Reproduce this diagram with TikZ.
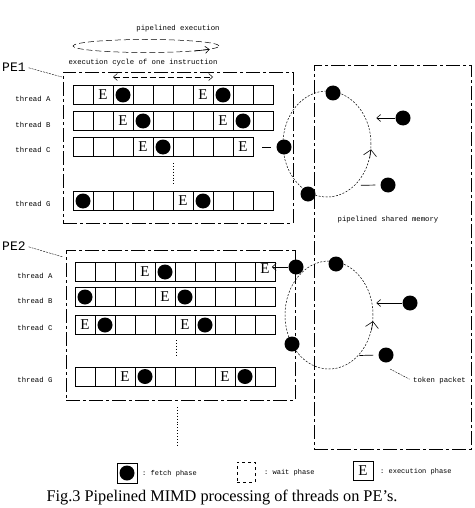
\documentclass[tikz,border=0pt]{standalone}
\usepackage{fontspec}
\setmainfont{Liberation Serif}
\setmonofont{Liberation Mono}
\usetikzlibrary{shapes.geometric,arrows.meta}
\newcommand\cellrow[4]{\foreach \i in {0,...,#4}{\node[cell] (#1-\i) at ({#2+20*\i+10},#3) {};}}
\begin{document}
\begin{tikzpicture}[x=1pt,y=-1pt,
  cell/.style={draw,line width=0.7pt,minimum width=20pt,minimum height=19pt,inner sep=0pt,outer sep=0pt},
  fdot/.style={circle,fill=black,minimum size=15pt,inner sep=0pt},
  eletter/.style={font=\fontsize{15}{15}\selectfont,inner sep=0pt},
  small/.style={font=\ttfamily\fontsize{7.3}{8}\selectfont,inner sep=0pt},
  legtext/.style={font=\ttfamily\fontsize{7}{8}\selectfont,inner sep=0pt,anchor=west},
  pelabel/.style={font=\ttfamily\fontsize{13}{13}\selectfont,inner sep=0pt},
  pebox/.style={draw,line width=0.6pt,dash pattern=on 14pt off 3pt on 3pt off 3pt,inner sep=0pt},
  ringst/.style={draw,ellipse,line width=0.5pt,dash pattern=on 2pt off 1.5pt,inner sep=0pt},
  leader/.style={line width=0.4pt,dash pattern=on 2pt off 1pt},
  tip/.style={-{Straight Barb[length=4pt,width=7pt]},line width=0.6pt},
  chevron/.style={-{Straight Barb[length=6pt,width=13pt]},line width=0.6pt},
  plainline/.style={line width=0.7pt},
  vdots/.style={dotted,line width=0.9pt}
]
\useasboundingbox (0,0) rectangle (474,508);

% top annotations
\node[small] (tpipe) at (178,29) {pipelined execution};
\node[draw,ellipse,line width=0.5pt,dash pattern=on 6pt off 3pt,minimum width=146pt,minimum height=13pt,inner sep=0pt] (pipe) at (146,46) {};
\draw[tip] (pipe.-6) -- (pipe.-3);
\node[small] (tcycle) at (143,63) {execution cycle of one instruction};
\coordinate (cycL) at (113,77);
\coordinate (cycR) at (213,77);
\draw[{Straight Barb[length=4pt,width=7pt]}-{Straight Barb[length=4pt,width=7pt]},line width=0.5pt,dash pattern=on 6pt off 3pt] (cycL) -- (cycR);

% boxes
\node[pebox,minimum width=230pt,minimum height=151pt] (pe1) at (178,147.5) {};
\node[pebox,minimum width=229pt,minimum height=150pt] (pe2) at (180.5,325) {};
\node[pebox,minimum width=157pt,minimum height=384pt] (mem) at (392.5,257) {};

% PE labels
\node[pelabel,anchor=west] (pe1l) at (2,67) {PE1};
\coordinate (pe1c) at (62,77);
\draw[leader,shorten <=3pt] (pe1l.east) -- (pe1c);
\node[pelabel,anchor=west] (pe2l) at (2,246) {PE2};
\coordinate (pe2c) at (63,257);
\draw[leader,shorten <=3pt] (pe2l.east) -- (pe2c);

% PE1 thread labels
\node[small] (l1a) at (33,99) {thread A};
\node[small] (l1b) at (33,125) {thread B};
\node[small] (l1c) at (33,150) {thread C};
\node[small] (l1g) at (33,204) {thread G};
% PE1 rows
\cellrow{p1a}{73}{95}{9}
\cellrow{p1b}{73}{121}{9}
\cellrow{p1c}{73}{147}{8}
\cellrow{p1g}{73}{201}{9}
\node[eletter] (p1a-e1) at (p1a-1) {E};
\node[fdot] (p1a-f2) at (p1a-2) {};
\node[eletter] (p1a-e6) at (p1a-6) {E};
\node[fdot] (p1a-f7) at (p1a-7) {};
\node[eletter] (p1b-e2) at (p1b-2) {E};
\node[fdot] (p1b-f3) at (p1b-3) {};
\node[eletter] (p1b-e7) at (p1b-7) {E};
\node[fdot] (p1b-f8) at (p1b-8) {};
\node[eletter] (p1c-e3) at (p1c-3) {E};
\node[fdot] (p1c-f4) at (p1c-4) {};
\node[eletter] (p1c-e8) at (p1c-8) {E};
\node[fdot] (p1g-f0) at (p1g-0) {};
\node[eletter] (p1g-e5) at (p1g-5) {E};
\node[fdot] (p1g-f6) at (p1g-6) {};
\coordinate (d1a) at (173,163);
\coordinate (d1b) at (173,184);
\draw[vdots] (d1a) -- (d1b);

% PE1 memory ring
\node[ringst,minimum width=88pt,minimum height=106pt] (ring1) at (327,144) {};
\draw[chevron] (ring1.-18) -- (ring1.-7);
\node[fdot] (r1t) at (333,93) {};
\node[fdot] (r1l) at (284,147) {};
\node[fdot] (r1b) at (308,194) {};
\node[fdot] (tok1a) at (403,118) {};
\node[fdot] (tok1b) at (388,185) {};
\draw[tip,shorten >=5pt] (tok1a.west) -- (tok1a.west -| ring1.east);
\draw[plainline,shorten <=6pt,shorten >=5pt] (ring1.-56) -- (tok1b.west);
\draw[plainline,shorten <=9pt,shorten >=5pt] (p1c-8.east) -- (r1l.west);

\node[small] (tmem) at (388,220) {pipelined shared memory};

% PE2 thread labels
\node[small] (l2a) at (35,276) {thread A};
\node[small] (l2b) at (35,301) {thread B};
\node[small] (l2c) at (35,328) {thread C};
\node[small] (l2g) at (35,380) {thread G};
% PE2 rows
\cellrow{p2a}{75}{272}{9}
\cellrow{p2b}{75}{297}{9}
\cellrow{p2c}{75}{325}{9}
\cellrow{p2g}{75}{376.5}{9}
\node[eletter] (p2a-e3) at (p2a-3) {E};
\node[fdot] (p2a-f4) at (p2a-4) {};
\node[eletter] (p2a-e9) at (265,269) {E};
\node[fdot] (p2b-f0) at (p2b-0) {};
\node[eletter] (p2b-e4) at (p2b-4) {E};
\node[fdot] (p2b-f5) at (p2b-5) {};
\node[eletter] (p2c-e0) at (p2c-0) {E};
\node[fdot] (p2c-f1) at (p2c-1) {};
\node[eletter] (p2c-e5) at (p2c-5) {E};
\node[fdot] (p2c-f6) at (p2c-6) {};
\node[eletter] (p2g-e2) at (p2g-2) {E};
\node[fdot] (p2g-f3) at (p2g-3) {};
\node[eletter] (p2g-e7) at (p2g-7) {E};
\node[fdot] (p2g-f8) at (p2g-8) {};
\coordinate (d2a) at (176,340);
\coordinate (d2b) at (176,356);
\draw[vdots] (d2a) -- (d2b);
\coordinate (d3a) at (177,407);
\coordinate (d3b) at (177,445);
\draw[vdots] (d3a) -- (d3b);

% PE2 memory ring
\node[ringst,minimum width=88pt,minimum height=108pt] (ring2) at (329,315) {};
\draw[chevron] (ring2.-20) -- (ring2.-8);
\node[fdot] (r2a) at (296,267) {};
\node[fdot] (r2t) at (336,264) {};
\node[fdot] (r2l) at (292,344) {};
\node[fdot] (tok2a) at (410,303) {};
\node[fdot] (tok2b) at (386,355) {};
\draw[tip,shorten >=2pt] (r2a.west) -- (r2a.west -| p2a-e9.east);
\draw[tip,shorten >=3pt] (tok2a.west) -- (tok2a.west -| ring2.east);
\draw[plainline,shorten <=1pt,shorten >=5pt] (ring2.-54) -- (tok2b.west);
\node[small,anchor=west] (toktext) at (413,381) {token packet};
\coordinate (tokfoot) at (390,369);
\draw[leader,shorten >=4pt] (tokfoot) -- (toktext.west);

% legend
\node[cell,minimum height=20pt] (lgF) at (127,473) {};
\node[fdot] (lgFd) at (lgF) {};
\node[legtext] (lgFt) at (142,474) {: fetch phase};
\node[cell,dashed,minimum width=18pt,minimum height=20pt] (lgW) at (246,472) {};
\node[legtext] (lgWt) at (264,473) {: wait phase};
\node[cell] (lgE) at (363,471) {};
\node[eletter] (lgEe) at (lgE) {E};
\node[legtext] (lgEt) at (380,472) {: execution phase};

% caption
\node[font=\fontsize{16.3}{18}\selectfont,inner sep=0pt] (cap) at (222,498) {Fig.3 Pipelined MIMD processing of threads on PE's.};
\end{tikzpicture}
\end{document}
